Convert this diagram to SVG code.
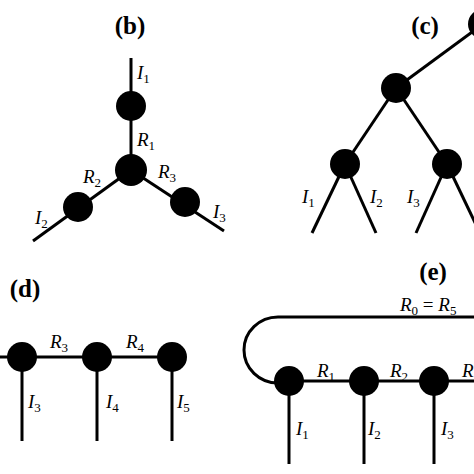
<svg xmlns="http://www.w3.org/2000/svg" width="474" height="474" viewBox="0 0 474 474">
<style>
.e{stroke:#000;stroke-width:3;fill:none}
.n{fill:#000}
.t{font-family:"Liberation Serif",serif;font-weight:bold;font-size:25px;text-anchor:middle;fill:#000}
.l{font-family:"Liberation Serif",serif;font-style:italic;font-size:19px;fill:#000}
.s{font-style:normal;font-size:13px}
.o{font-style:normal}
</style>
<rect width="474" height="474" fill="#fff"/>
<g id="connectors">
<line class="e" x1="131" y1="58" x2="131" y2="170"/>
<line class="e" x1="131" y1="170" x2="33" y2="241"/>
<line class="e" x1="131" y1="170" x2="224" y2="231"/>
<line class="e" x1="483" y1="24" x2="396" y2="88"/>
<line class="e" x1="396" y1="88" x2="345" y2="164"/>
<line class="e" x1="396" y1="88" x2="447" y2="164"/>
<line class="e" x1="345" y1="164" x2="312" y2="233"/>
<line class="e" x1="345" y1="164" x2="376" y2="233"/>
<line class="e" x1="447" y1="164" x2="416" y2="233"/>
<line class="e" x1="447" y1="164" x2="480" y2="233"/>
<line class="e" x1="0" y1="357" x2="172" y2="357"/>
<line class="e" x1="22" y1="357" x2="22" y2="441"/>
<line class="e" x1="97" y1="357" x2="97" y2="441"/>
<line class="e" x1="172" y1="357" x2="172" y2="441"/>
<path class="e" d="M474 317 H278 A34 33 0 0 0 278 383 L289 381"/>
<line class="e" x1="289" y1="381" x2="474" y2="381"/>
<line class="e" x1="289" y1="381" x2="289" y2="464"/>
<line class="e" x1="364" y1="381" x2="364" y2="464"/>
<line class="e" x1="434" y1="381" x2="434" y2="464"/>
</g>
<g id="b-nodes">
<circle class="n" cx="131" cy="106" r="15"/>
<circle class="n" cx="131" cy="170" r="16"/>
<circle class="n" cx="78" cy="207" r="15"/>
<circle class="n" cx="185" cy="202" r="15"/>
</g>
<g id="c-nodes">
<circle class="n" cx="483" cy="24" r="15"/>
<circle class="n" cx="396" cy="88" r="15"/>
<circle class="n" cx="345" cy="164" r="15"/>
<circle class="n" cx="447" cy="164" r="15"/>
</g>
<g id="d-nodes">
<circle class="n" cx="22" cy="357" r="15"/>
<circle class="n" cx="97" cy="357" r="15"/>
<circle class="n" cx="172" cy="357" r="15"/>
</g>
<g id="e-nodes">
<circle class="n" cx="289" cy="381" r="15"/>
<circle class="n" cx="364" cy="381" r="15"/>
<circle class="n" cx="434" cy="381" r="15"/>
</g>
<g id="titles">
<text class="t" x="130" y="34">(b)</text>
<text class="t" x="425" y="34">(c)</text>
<text class="t" x="25" y="297">(d)</text>
<text class="t" x="433" y="280">(e)</text>
</g>
<g id="labels">
<text class="l" x="137" y="79">I<tspan class="s" dy="4">1</tspan></text>
<text class="l" x="137" y="146">R<tspan class="s" dy="4">1</tspan></text>
<text class="l" x="83" y="183">R<tspan class="s" dy="4">2</tspan></text>
<text class="l" x="158" y="178">R<tspan class="s" dy="4">3</tspan></text>
<text class="l" x="35" y="224">I<tspan class="s" dy="4">2</tspan></text>
<text class="l" x="213" y="218">I<tspan class="s" dy="4">3</tspan></text>

<text class="l" x="302" y="203">I<tspan class="s" dy="4">1</tspan></text>
<text class="l" x="370" y="203">I<tspan class="s" dy="4">2</tspan></text>
<text class="l" x="407" y="203">I<tspan class="s" dy="4">3</tspan></text>

<text class="l" x="50" y="348">R<tspan class="s" dy="4">3</tspan></text>
<text class="l" x="126" y="348">R<tspan class="s" dy="4">4</tspan></text>
<text class="l" x="28" y="408">I<tspan class="s" dy="4">3</tspan></text>
<text class="l" x="106" y="408">I<tspan class="s" dy="4">4</tspan></text>
<text class="l" x="177" y="408">I<tspan class="s" dy="4">5</tspan></text>

<text class="l" x="400" y="311">R<tspan class="s" dy="4">0</tspan><tspan class="o" dy="-4"> = </tspan>R<tspan class="s" dy="4">5</tspan></text>
<text class="l" x="317" y="377">R<tspan class="s" dy="4">1</tspan></text>
<text class="l" x="390" y="377">R<tspan class="s" dy="4">2</tspan></text>
<text class="l" x="462" y="377">R</text>
<text class="l" x="296" y="435">I<tspan class="s" dy="4">1</tspan></text>
<text class="l" x="368" y="435">I<tspan class="s" dy="4">2</tspan></text>
<text class="l" x="441" y="435">I<tspan class="s" dy="4">3</tspan></text>
</g>
</svg>
